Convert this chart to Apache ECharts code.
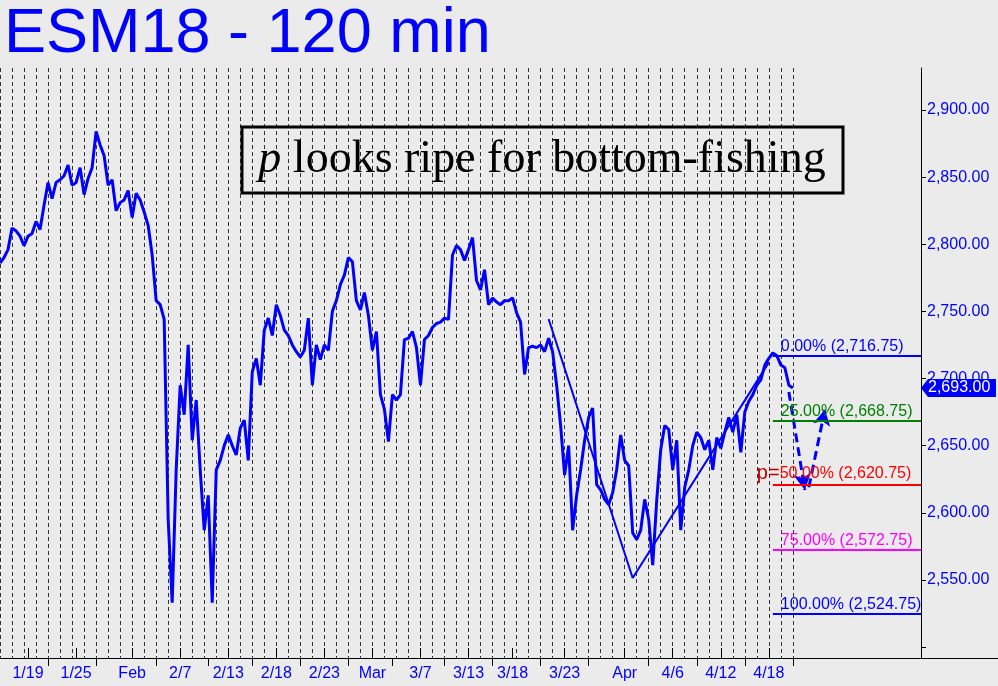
<!DOCTYPE html>
<html><head><meta charset="utf-8">
<script src="https://cdn.jsdelivr.net/npm/echarts@6/dist/echarts.min.js"></script>
<style>html,body{margin:0;padding:0;background:#ebebeb}#c{width:998px;height:686px}</style>
</head><body><div id="c"></div><script>
// price path, one value per 1/3 trading day (120-min chart)
const prices = [2786,2790,2796,2812,2810,2806,2799,2806,2808,2817,2811,2829,2846,2834,2846,2848,2851,2859,2844,2846,
2857,2837,2849,2857,2884,2874,2866,2844,2848,2825,2831,2833,2840,2820,2838,2833,2824,2814,2792,2758,
2755,2744,2595,2533,2632,2695,2673,2725,2654,2684,2632,2587,2613,2533,2632,2639,2650,2658,2650,2643,
2663,2669,2639,2705,2715,2695,2736,2745,2732,2755,2747,2736,2732,2725,2720,2716,2721,2745,2695,2725,
2714,2725,2721,2750,2758,2770,2777,2790,2787,2758,2751,2764,2747,2721,2735,2688,2677,2653,2688,2684,
2688,2729,2730,2735,2723,2695,2729,2732,2738,2741,2742,2745,2744,2792,2799,2796,2788,2796,2805,2773,
2766,2781,2755,2760,2757,2755,2758,2758,2760,2749,2742,2703,2723,2724,2723,2725,2720,2730,2720,2695,
2665,2628,2650,2587,2613,2632,2654,2671,2678,2621,2617,2610,2606,2615,2632,2658,2639,2635,2585,2580,
2587,2610,2595,2561,2609,2647,2665,2662,2632,2654,2587,2619,2632,2650,2660,2656,2647,2654,2632,2656,
2648,2660,2671,2660,2673,2645,2675,2683,2688,2695,2699,2710,2715,2719,2717,2710,2708,2695,2693];
const dateLabels = ['1/19','1/25','Feb','2/7','2/13','2/18','2/23','Mar','3/7','3/13','3/18','3/23','Apr','4/6','4/12','4/18'];
const labelIdx = [7,19,33,45,57,69,81,93,105,117,128,141,156,168,180,192];
const weekIdx = [12,24,39,52,63,75,87,98,111,123,135,147,162,174,186,198];
const trendLine = [[137,2744.3],[158,2551.4],[192,2712.0]];
const projDown = [[197,2690],[201,2617]];
const projUp = [[202,2619],[206,2677]];
const fibPct = [0,25,50,75,100];
const fibVals = [2716.75,2668.75,2620.75,2572.75,2524.75];
const yTicks = [2500,2550,2600,2650,2700,2750,2800,2850,2900];
const yLabels = [2550,2600,2650,2700,2750,2800,2850,2900];
const lastPrice = 2693.00;

const fibColors = ['#0000ff','#008000','#ff0000','#ff00ff','#0000ff'];
const NCAT = 231, LASTDAYIDX = 198;
const cats = Array.from({length:NCAT},(_,i)=>String(i));
const fmt = v => v.toLocaleString('en-US',{minimumFractionDigits:2,maximumFractionDigits:2});
const FONT = '"Liberation Sans", Arial, sans-serif';

const chart = echarts.init(document.getElementById('c'), null, {renderer:'canvas'});
const fibData = fibVals.map((v,k)=>{
  const txt = fibPct[k].toFixed(2)+'% ('+fmt(v)+')';
  const isP = k===2;
  return [{
    coord:[193, v],
    lineStyle:{color:fibColors[k], width:2, type:'solid'},
    label:{show:true, position:'insideStartTop', distance: isP?[-16,1]:[8,1],
      formatter: isP ? '{p|p=}{t|'+txt+'}' : txt,
      color:fibColors[k], fontSize:16, fontFamily:FONT,
      rich:{p:{color:'#c00000',fontSize:20,fontFamily:FONT},t:{color:fibColors[k],fontSize:16,fontFamily:FONT}}}
  },{coord:[230, v]}];
});

chart.setOption({
  animation:false,
  backgroundColor:'#ebebeb',
  grid:{left:0, right:77, top:68, bottom:28, containLabel:false},
  xAxis:[{
    type:'category', data:cats, boundaryGap:false, position:'bottom',
    axisLine:{show:true, lineStyle:{color:'#000', width:1}},
    axisTick:{show:true, inside:true, length:10, lineStyle:{color:'#000'}, interval:(i)=>labelIdx.includes(i)},
    axisLabel:{show:true, interval:(i)=>labelIdx.includes(i), formatter:(v,i)=>{const k=labelIdx.indexOf(i);return k>=0?dateLabels[k]:'';},
      color:'#0000ff', fontSize:16, fontFamily:FONT, margin:8},
    splitLine:{show:true, interval:(i)=>i%3===0 && i<=LASTDAYIDX, lineStyle:{color:'#333', width:1, type:[4,3]}}
  },{
    type:'category', data:cats, boundaryGap:false, position:'bottom', offset:0,
    axisLine:{show:false}, axisLabel:{show:false}, splitLine:{show:false},
    axisTick:{show:true, inside:false, length:8, lineStyle:{color:'#000'}, interval:(i)=>weekIdx.includes(i)}
  }],
  yAxis:{
    type:'value', position:'right', min:2491.81, max:2931.28, scale:true,
    axisLine:{show:true, lineStyle:{color:'#000', width:1}},
    axisTick:{show:true, length:5, lineStyle:{color:'#000'}, customValues:yTicks},
    axisLabel:{show:true, customValues:yLabels, formatter:v=>fmt(v), color:'#0000ff', fontSize:16, fontFamily:FONT, margin:6},
    splitLine:{show:false}
  },
  series:[{
    type:'line', data:prices, symbol:'none', xAxisIndex:0,
    lineStyle:{color:'#0000ff', width:3}, z:3
  },{
    type:'line', data:trendLine, symbol:'none', xAxisIndex:0,
    lineStyle:{color:'#0000ff', width:2}, z:4,
    markLine:{silent:true, symbol:['none','arrow'], symbolSize:[13,16], animation:false,
      lineStyle:{color:'#0000ff', width:3, type:[9,5]}, label:{show:false},
      data:[[{coord:projDown[0]},{coord:projDown[1]}],[{coord:projUp[0]},{coord:projUp[1]}]]}
  },{
    type:'line', data:[], xAxisIndex:0,
    markLine:{silent:true, symbol:['none','none'], animation:false, data:fibData}
  }]
});

const yTag = chart.convertToPixel({yAxisIndex:0}, lastPrice);
chart.setOption({graphic:[
  {type:'text', left:4, top:3, z:10, style:{text:'ESM18 - 120 min', font:'63px '+FONT, fill:'#0000ff'}},
  {type:'rect', shape:{x:242, y:127, width:601, height:66}, style:{fill:'none', stroke:'#000', lineWidth:3}, z:10},
  {type:'text', x:542, y:160, z:11, style:{text:'{i|p} looks ripe for bottom-fishing', align:'center', verticalAlign:'middle',
     fill:'#000', font:'46px "Liberation Serif", "Times New Roman", serif',
     rich:{i:{fontStyle:'italic', fontSize:46, fontFamily:'"Liberation Serif", "Times New Roman", serif', fill:'#000'}}}},
  {type:'line', shape:{x1:921, y1:658.5, x2:998, y2:658.5}, style:{stroke:'#000', lineWidth:1}, z:10},
  {type:'polygon', z:12, shape:{points:[[921,yTag],[928,yTag-9],[996,yTag-9],[996,yTag+9],[928,yTag+9]]}, style:{fill:'#0000ff'}},
  {type:'text', x:928, y:yTag, z:13, style:{text:fmt(lastPrice), fill:'#fff', font:'16px '+FONT, verticalAlign:'middle'}}
]});
</script></body></html>
